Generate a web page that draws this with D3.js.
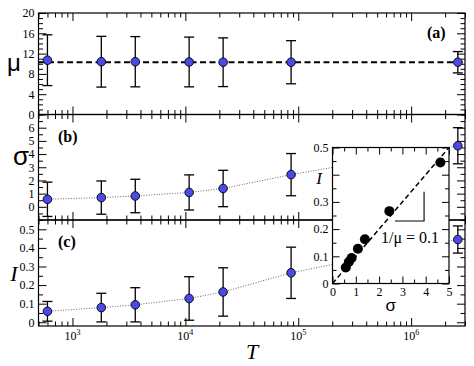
<!DOCTYPE html>
<html>
<head>
<meta charset="utf-8">
<script src="https://cdn.jsdelivr.net/npm/d3@7"></script>
<style>
  html, body { margin: 0; padding: 0; background: #fff; }
  svg { display: block; }
  text { font-family: "Liberation Serif", "DejaVu Serif", serif; fill: #000; }
</style>
</head>
<body>
<svg id="chart" width="474" height="366"></svg>
<script>
// ---------------- data ----------------
const T       = [600, 1800, 3600, 10800, 21600, 86400, 2592000];
const mu      = [10.7, 10.4, 10.4, 10.35, 10.3, 10.3, 10.3];
const muErr   = [5.0, 5.0, 4.95, 4.9, 4.8, 4.25, 2.1];
const muMean  = 10.3;
const sigma   = [0.57, 0.70, 0.82, 1.09, 1.39, 2.44, 4.63];
const sigmaErr= [1.3, 1.26, 1.27, 1.33, 1.38, 1.6, 1.37];
const Ival    = [0.059, 0.079, 0.094, 0.128, 0.163, 0.266, 0.445];
const IErr    = [0.053, 0.077, 0.092, 0.117, 0.13, 0.138, 0.073];
const slope   = 0.1;           // 1/mu
const xTickExp = [3, 4, 5, 6];
const muTicks = [0, 4, 8, 12, 16, 20];
const sigmaTicks = [0, 1, 2, 3, 4, 5, 6];
const ITicks = [0, 0.1, 0.2, 0.3, 0.4, 0.5];
const insetXTicks = [0, 1, 2, 3, 4, 5];
const insetYTickLabels = [0, 0.1, 0.2, 0.3, 0.5];

// ---------------- layout ----------------
const svg = d3.select("#chart");
const L = 38.5, R = 465;
const panels = [
  { key: "a", top: 13,    bottom: 114.5, domain: [0, 20],      major: muTicks,    minorStep: 1,    vals: mu,    err: muErr,    label: "(a)", fmt: d => d },
  { key: "b", top: 114.5, bottom: 220,   domain: [-1, 7],      major: sigmaTicks, minorStep: 0.5,  vals: sigma, err: sigmaErr, label: "(b)", fmt: d => d },
  { key: "c", top: 220,   bottom: 326,   domain: [-0.02, 0.55], major: ITicks,     minorStep: 0.05, vals: Ival,  err: IErr,     label: "(c)", fmt: d => d === 0 ? "0" : d3.format(".1f")(d) }
];

const x = d3.scaleLog().domain([500, 3e6]).range([L, R]);
const xMajor = xTickExp.map(e => Math.pow(10, e));
const xMinor = [];
for (let e = 2; e <= 6; e++) for (let k = 2; k <= 9; k++) {
  const v = k * Math.pow(10, e);
  if (v >= 500 && v <= 3e6) xMinor.push(v);
}

const MAJ = 8, MIN = 4.5;
const blue = "#4a4ae8";

function minorValues(domain, step, majors) {
  const out = [];
  const start = Math.ceil(domain[0] / step - 1e-9);
  const end = Math.floor(domain[1] / step + 1e-9);
  for (let i = start; i <= end; i++) {
    const v = +(i * step).toFixed(6);
    if (!majors.some(m => Math.abs(m - v) < 1e-9)) out.push(v);
  }
  return out;
}

function styleAxis(g) {
  g.select(".domain").remove();
  g.selectAll(".tick line").attr("stroke", "#000").attr("stroke-width", 1);
  g.selectAll(".tick text").style("font-family", "Liberation Serif, serif").style("font-size", "12px").attr("fill", "#000");
}

panels.forEach((p, i) => {
  const y = d3.scaleLinear().domain(p.domain).range([p.bottom, p.top]);
  p.y = y;
  const g = svg.append("g");
  const majors = p.major.filter(v => v >= p.domain[0] && v <= p.domain[1]);
  const minors = minorValues(p.domain, p.minorStep, majors);

  // y axes left/right
  g.append("g").attr("transform", `translate(${L},0)`)
    .call(d3.axisLeft(y).tickValues(majors).tickSize(-MAJ).tickPadding(4).tickFormat(p.fmt)).call(styleAxis);
  g.append("g").attr("transform", `translate(${L},0)`)
    .call(d3.axisLeft(y).tickValues(minors).tickSize(-MIN).tickFormat("")).call(styleAxis);
  g.append("g").attr("transform", `translate(${R},0)`)
    .call(d3.axisRight(y).tickValues(majors).tickSize(-MAJ).tickFormat("")).call(styleAxis);
  g.append("g").attr("transform", `translate(${R},0)`)
    .call(d3.axisRight(y).tickValues(minors).tickSize(-MIN).tickFormat("")).call(styleAxis);

  // x axes top/bottom
  g.append("g").attr("transform", `translate(0,${p.top})`)
    .call(d3.axisTop(x).tickValues(xMajor).tickSize(-MAJ).tickFormat("")).call(styleAxis);
  g.append("g").attr("transform", `translate(0,${p.top})`)
    .call(d3.axisTop(x).tickValues(xMinor).tickSize(-MIN).tickFormat("")).call(styleAxis);
  g.append("g").attr("transform", `translate(0,${p.bottom})`)
    .call(d3.axisBottom(x).tickValues(xMajor).tickSize(-MAJ).tickFormat("")).call(styleAxis);
  g.append("g").attr("transform", `translate(0,${p.bottom})`)
    .call(d3.axisBottom(x).tickValues(xMinor).tickSize(-MIN).tickFormat("")).call(styleAxis);

  // frame
  g.append("rect").attr("x", L).attr("y", p.top).attr("width", R - L).attr("height", p.bottom - p.top)
    .attr("fill", "none").attr("stroke", "#000").attr("stroke-width", 1.2);

  // connecting line
  if (p.key === "a") {
    g.append("line").attr("x1", L).attr("x2", R).attr("y1", y(muMean)).attr("y2", y(muMean))
      .attr("stroke", "#000").attr("stroke-width", 2).attr("stroke-dasharray", "6,3.5");
  } else {
    g.append("path").datum(T.map((t, j) => [t, p.vals[j]]))
      .attr("d", d3.line().x(d => x(d[0])).y(d => y(d[1])))
      .attr("fill", "none").attr("stroke", "#666").attr("stroke-width", 1).attr("stroke-dasharray", "1,1.6");
  }

  // error bars
  const eb = g.append("g").attr("stroke", "#000").attr("stroke-width", 1.3);
  T.forEach((t, j) => {
    const cx = x(t), y1 = y(p.vals[j] + p.err[j]), y0 = y(Math.max(p.vals[j] - p.err[j], p.domain[0]));
    eb.append("line").attr("x1", cx).attr("x2", cx).attr("y1", y1).attr("y2", y0);
    eb.append("line").attr("x1", cx - 5).attr("x2", cx + 5).attr("y1", y1).attr("y2", y1);
    if (p.vals[j] - p.err[j] >= p.domain[0])
      eb.append("line").attr("x1", cx - 5).attr("x2", cx + 5).attr("y1", y0).attr("y2", y0);
  });

  // points
  g.selectAll("circle.pt").data(T.map((t, j) => [t, p.vals[j]])).enter().append("circle")
    .attr("cx", d => x(d[0])).attr("cy", d => y(d[1])).attr("r", 4.3)
    .attr("fill", blue).attr("stroke", "#000").attr("stroke-width", 0.9);

  // panel label
  const lp = p.key === "a" ? { x: 427, y: 38, a: "start" } : { x: 58, y: p.top + 27, a: "start" };
  g.append("text").attr("x", lp.x).attr("y", lp.y).attr("text-anchor", lp.a)
    .style("font-size", "16px").style("font-weight", "bold").text(p.label);
});

// x tick labels on bottom panel
const pc = panels[2];
xTickExp.forEach(e => {
  const t = svg.append("text").attr("x", x(Math.pow(10, e))).attr("y", pc.bottom + 14)
    .attr("text-anchor", "middle").style("font-size", "12px");
  t.append("tspan").text("10");
  t.append("tspan").attr("dy", -5).style("font-size", "8px").text(e);
});

// axis titles
svg.append("text").attr("x", 14).attr("y", 71).attr("text-anchor", "middle")
  .style("font-family", "Liberation Sans, sans-serif").style("font-size", "24px").text("μ");
svg.append("text").attr("x", 21).attr("y", 165).attr("text-anchor", "middle")
  .style("font-family", "Liberation Sans, sans-serif").style("font-size", "26px").text("σ");
svg.append("text").attr("x", 14).attr("y", 281).attr("text-anchor", "middle")
  .style("font-size", "22px").style("font-style", "italic").text("I");
svg.append("text").attr("x", 252).attr("y", 359).attr("text-anchor", "middle")
  .style("font-size", "22px").style("font-style", "italic").text("T");

// ---------------- inset ----------------
const IL = 332.5, IR = 449, IT = 147.5, IB = 283.5;
const xi = d3.scaleLinear().domain([0, 5]).range([IL, IR]);
const yi = d3.scaleLinear().domain([0, 0.5]).range([IB, IT]);
const gi = svg.append("g");
gi.append("rect").attr("x", IL).attr("y", IT).attr("width", IR - IL).attr("height", IB - IT).attr("fill", "#fff");

const ixMaj = insetXTicks, ixMin = minorValues([0, 5], 0.5, ixMaj);
const iyMaj = ITicks, iyMin = minorValues([0, 0.5], 0.05, iyMaj);
const IMAJ = 7, IMIN = 4;
gi.append("g").attr("transform", `translate(0,${IB})`)
  .call(d3.axisBottom(xi).tickValues(ixMaj).tickSize(-IMAJ).tickPadding(4).tickFormat(d => d)).call(styleAxis);
gi.append("g").attr("transform", `translate(0,${IB})`)
  .call(d3.axisBottom(xi).tickValues(ixMin).tickSize(-IMIN).tickFormat("")).call(styleAxis);
gi.append("g").attr("transform", `translate(0,${IT})`)
  .call(d3.axisTop(xi).tickValues(ixMaj).tickSize(-IMAJ).tickFormat("")).call(styleAxis);
gi.append("g").attr("transform", `translate(0,${IT})`)
  .call(d3.axisTop(xi).tickValues(ixMin).tickSize(-IMIN).tickFormat("")).call(styleAxis);
gi.append("g").attr("transform", `translate(${IL},0)`)
  .call(d3.axisLeft(yi).tickValues(iyMaj).tickSize(-IMAJ).tickPadding(4)
    .tickFormat(d => insetYTickLabels.some(v => Math.abs(v - d) < 1e-9) ? (d === 0 ? "0" : d3.format(".1f")(d)) : "")).call(styleAxis);
gi.append("g").attr("transform", `translate(${IL},0)`)
  .call(d3.axisLeft(yi).tickValues(iyMin).tickSize(-IMIN).tickFormat("")).call(styleAxis);
gi.append("g").attr("transform", `translate(${IR},0)`)
  .call(d3.axisRight(yi).tickValues(iyMaj).tickSize(-IMAJ).tickFormat("")).call(styleAxis);
gi.append("g").attr("transform", `translate(${IR},0)`)
  .call(d3.axisRight(yi).tickValues(iyMin).tickSize(-IMIN).tickFormat("")).call(styleAxis);
gi.append("rect").attr("x", IL).attr("y", IT).attr("width", IR - IL).attr("height", IB - IT)
  .attr("fill", "none").attr("stroke", "#000").attr("stroke-width", 1.2);

// fit line I = sigma / mu
gi.append("line").attr("x1", xi(0)).attr("y1", yi(0)).attr("x2", xi(5)).attr("y2", yi(5 * slope))
  .attr("stroke", "#000").attr("stroke-width", 1.5).attr("stroke-dasharray", "5,3");

// slope marker
gi.append("path")
  .attr("d", `M${xi(2.68)},${yi(0.23)}H${xi(3.93)}V${yi(0.337)}`)
  .attr("fill", "none").attr("stroke", "#000").attr("stroke-width", 1.1);

gi.selectAll("circle.ip").data(sigma.map((s, j) => [s, Ival[j]])).enter().append("circle")
  .attr("cx", d => xi(d[0])).attr("cy", d => yi(d[1])).attr("r", 5).attr("fill", "#000");

gi.append("text").attr("x", 410).attr("y", 243).attr("text-anchor", "middle")
  .style("font-size", "16px").text("1/μ = 0.1");
gi.append("text").attr("x", xi(2.5)).attr("y", 311).attr("text-anchor", "middle")
  .style("font-family", "Liberation Sans, sans-serif").style("font-size", "17px").text("σ");
gi.append("text").attr("x", 319).attr("y", 184).attr("text-anchor", "middle")
  .style("font-size", "17px").style("font-style", "italic").text("I");
</script>
</body>
</html>
